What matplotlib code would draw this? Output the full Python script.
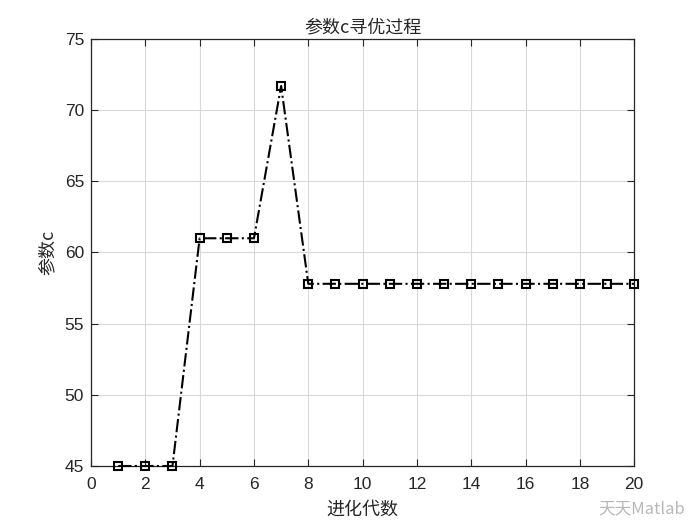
import matplotlib
matplotlib.use("Agg")
import matplotlib.pyplot as plt

plt.rcParams['font.family'] = ['Liberation Sans', 'Noto Sans CJK SC', 'DejaVu Sans']

# data
generations = list(range(1, 21))
param_c = [45, 45, 45, 61, 61, 61, 71.7, 57.8, 57.8, 57.8,
           57.8, 57.8, 57.8, 57.8, 57.8, 57.8, 57.8, 57.8, 57.8, 57.8]
xticks = list(range(0, 21, 2))
yticks = list(range(45, 76, 5))

fig = plt.figure(figsize=(7, 5.25), dpi=100)
ax = fig.add_axes([0.13, 0.1124, 0.776, 0.8133])

ax.plot(generations, param_c, color='black', linestyle='-.', linewidth=1.5,
        marker='s', markersize=6, markerfacecolor='none', markeredgewidth=1.5,
        clip_on=False, zorder=3)

ax.set_xlim(0, 20)
ax.set_ylim(45, 75)
ax.set_xticks(xticks)
ax.set_yticks(yticks)
ax.grid(True, color='#d9d9d9', linewidth=0.8)
ax.set_axisbelow(True)
ax.tick_params(direction='in', top=True, right=True, labelsize=12.5, length=5,
               color='#262626', labelcolor='#262626', pad=5)
ax.tick_params(axis='x', pad=8)
for s in ax.spines.values():
    s.set_linewidth(0.9)
    s.set_color('#262626')

cjk = ['Noto Sans CJK SC', 'DejaVu Sans']
ax.set_title('参数c寻优过程', family=cjk, fontsize=13, color='#262626', pad=5)
ax.set_xlabel('进化代数', family=cjk, fontsize=13, color='#262626', labelpad=6)
ax.set_ylabel('参数c', family=cjk, fontsize=13, color='#262626', labelpad=6)

# watermark, kept just under the tick labels
fig.text(0.855, 0.03, '天天Matlab', family=cjk, fontsize=12, color='#b8b8b8',
         ha='left', va='center')

fig.savefig('out.png', dpi=100)
